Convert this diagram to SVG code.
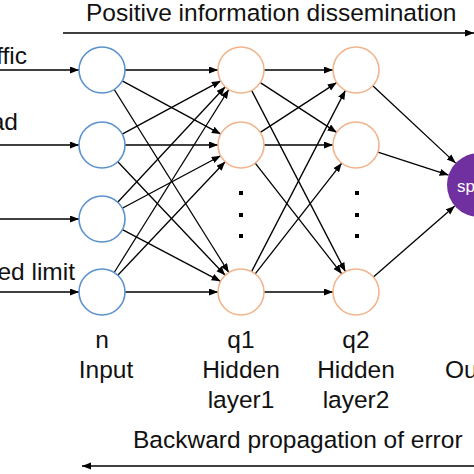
<svg xmlns="http://www.w3.org/2000/svg" width="474" height="474" viewBox="0 0 474 474">
<defs>
<marker id="ah" markerUnits="userSpaceOnUse" markerWidth="10" markerHeight="8" refX="9" refY="3.5" orient="auto"><path d="M0,0 L9,3.5 L0,7 z" fill="#000"/></marker>
<style>
.t{font-family:"Liberation Sans",Arial,sans-serif;font-size:24.5px;fill:#111}
.c{text-anchor:middle}
.in{fill:#fff;stroke:#5b92cc;stroke-width:1.6}
.hd{fill:#fff;stroke:#f2b48c;stroke-width:1.6}
.e line{stroke:#000;stroke-width:1.3;marker-end:url(#ah)}
.dot{fill:#000}
</style>
</defs>
<rect width="474" height="474" fill="#fff"/>
<text class="t" x="86" y="21">Positive information dissemination</text>
<text class="t" x="133" y="448">Backward propagation of error</text>
<g id="labels">
<text class="t" x="27" y="64" text-anchor="end">ffic</text>
<text class="t" x="18" y="130" text-anchor="end">ad</text>
<text class="t" x="75" y="280" text-anchor="end">ed limit</text>
<text class="t c" x="102" y="348">n</text>
<text class="t c" x="106" y="378">Input</text>
<text class="t c" x="241" y="348">q1</text>
<text class="t c" x="241" y="378">Hidden</text>
<text class="t c" x="241" y="408">layer1</text>
<text class="t c" x="356" y="348">q2</text>
<text class="t c" x="356" y="378">Hidden</text>
<text class="t c" x="356" y="408">layer2</text>
<text class="t" x="445" y="378">Ou</text>
</g>
<g id="connectors" class="e">
<line x1="63" y1="33" x2="474" y2="33"/>
<line x1="474" y1="466" x2="82" y2="466"/>
<line x1="0" y1="70" x2="79" y2="70"/>
<line x1="0" y1="145" x2="79" y2="145"/>
<line x1="0" y1="219" x2="79" y2="219"/>
<line x1="0" y1="292" x2="79" y2="292"/>
<line x1="125" y1="70" x2="218" y2="70"/>
<line x1="122.2" y1="80.9" x2="220.8" y2="134.1"/>
<line x1="114.2" y1="89.5" x2="228.8" y2="272.5"/>
<line x1="122.2" y1="134.1" x2="220.8" y2="80.9"/>
<line x1="125" y1="145" x2="218" y2="145"/>
<line x1="117.8" y1="161.7" x2="225.2" y2="275.3"/>
<line x1="117.7" y1="202.2" x2="225.3" y2="86.8"/>
<line x1="122.3" y1="208.2" x2="220.7" y2="155.8"/>
<line x1="122.4" y1="229.7" x2="220.6" y2="281.3"/>
<line x1="114.2" y1="272.5" x2="228.8" y2="89.5"/>
<line x1="117.8" y1="275.3" x2="225.2" y2="161.7"/>
<line x1="125" y1="292" x2="218" y2="292"/>
<line x1="264" y1="70" x2="333" y2="70"/>
<line x1="260.3" y1="82.6" x2="336.7" y2="132.4"/>
<line x1="251.6" y1="90.4" x2="345.4" y2="271.6"/>
<line x1="260.3" y1="132.4" x2="336.7" y2="82.6"/>
<line x1="264" y1="145" x2="333" y2="145"/>
<line x1="255.2" y1="163.1" x2="341.8" y2="273.9"/>
<line x1="251.6" y1="271.6" x2="345.4" y2="90.4"/>
<line x1="255.2" y1="273.9" x2="341.8" y2="163.1"/>
<line x1="264" y1="292" x2="333" y2="292"/>
<line x1="372.8" y1="85.7" x2="455.6" y2="163.1"/>
<line x1="377.9" y1="152.1" x2="448.6" y2="175.1"/>
<line x1="373.4" y1="276.9" x2="454.8" y2="206"/>
</g>
<g id="input1"><circle class="in" cx="102" cy="70" r="23"/></g>
<g id="input2"><circle class="in" cx="102" cy="145" r="23"/></g>
<g id="input3"><circle class="in" cx="102" cy="219" r="23"/></g>
<g id="input4"><circle class="in" cx="102" cy="292" r="23"/></g>
<g id="h1a"><circle class="hd" cx="241" cy="70" r="23"/></g>
<g id="h1b"><circle class="hd" cx="241" cy="145" r="23"/></g>
<g id="h1c"><circle class="hd" cx="241" cy="292" r="23"/></g>
<g id="h2a"><circle class="hd" cx="356" cy="70" r="23"/></g>
<g id="h2b"><circle class="hd" cx="356" cy="145" r="23"/></g>
<g id="h2c"><circle class="hd" cx="356" cy="292" r="23"/></g>
<g id="dots">
<rect class="dot" x="239" y="191" width="4" height="4"/>
<rect class="dot" x="239" y="213" width="4" height="4"/>
<rect class="dot" x="239" y="234" width="4" height="4"/>
<rect class="dot" x="355" y="191" width="4" height="4"/>
<rect class="dot" x="355" y="213" width="4" height="4"/>
<rect class="dot" x="355" y="234" width="4" height="4"/>
</g>
<g id="output"><circle cx="479" cy="185" r="32" fill="#7030a0"/>
<text x="457" y="192" font-family="Liberation Sans,Arial,sans-serif" font-size="17" fill="#fff">sp</text></g>
</svg>
